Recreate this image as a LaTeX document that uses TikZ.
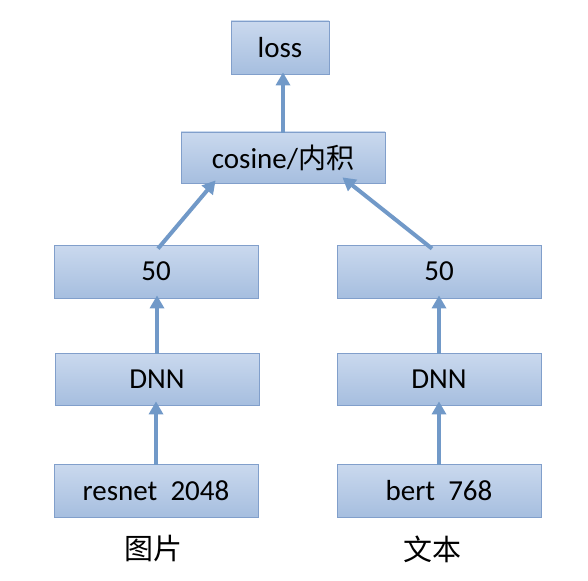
\documentclass[tikz,border=0pt]{standalone}
\usepackage{fontspec}
\setmainfont{Carlito}
\newfontfamily\cjk{Noto Sans CJK SC}
\usetikzlibrary{arrows.meta}
\definecolor{boxtop}{HTML}{CAD9EE}
\definecolor{boxbot}{HTML}{A6BEDF}
\definecolor{boxline}{HTML}{819FCB}
\definecolor{arr}{HTML}{7199C8}
\tikzset{
  blk/.style={draw=boxline, line width=0.8pt, top color=boxtop, bottom color=boxbot,
    minimum width=204pt, minimum height=52pt, inner sep=0pt, font=\fontsize{29}{34}\selectfont},
  flow/.style={draw=arr, line width=4pt, -{Triangle[length=13pt,width=14pt]}},
  lbl/.style={font=\cjk\fontsize{29}{34}\selectfont}
}
\begin{document}
\begin{tikzpicture}[x=1pt,y=-1pt]
\useasboundingbox (0,0) rectangle (588,580);
\node[blk, minimum width=98pt, minimum height=53pt] (loss) at (280,47.5) {loss};
\node[blk, minimum height=51pt] (cos) at (283,157.5) {cosine/{\cjk\fontsize{28}{32}\selectfont 内积}};
\node[blk, minimum height=53pt] (l50) at (156,271.5) {50};
\node[blk, minimum height=53pt] (r50) at (439,271.5) {50};
\node[blk] (ldnn) at (157,379) {DNN};
\node[blk] (rdnn) at (439,379) {DNN};
\node[blk, minimum height=53pt] (lin) at (156,490.5) {resnet\ \ 2048};
\node[blk, minimum height=53pt] (rin) at (439,490.5) {bert\ \ 768};
\node[lbl] (limg) at (153,549) {图片};
\node[lbl] (ltxt) at (432,549) {文本};
\draw[flow] ([yshift=-1pt]cos.north) -- ([yshift=2pt]loss.south -| cos.north);
\draw[flow] ([xshift=2pt,yshift=-4pt]l50.north) -- ([xshift=35pt,yshift=3pt]cos.south west);
\draw[flow] ([xshift=-7pt,yshift=-4pt]r50.north) -- ([xshift=-43pt,yshift=6pt]cos.south east);
\draw[flow] ([yshift=-1pt]ldnn.north) -- ([yshift=3pt]l50.south -| ldnn.north);
\draw[flow] ([yshift=-1pt]rdnn.north) -- ([yshift=3pt]r50.south);
\draw[flow] ([yshift=-1pt]lin.north) -- ([yshift=4pt]ldnn.south -| lin.north);
\draw[flow] ([yshift=-1pt]rin.north) -- ([yshift=4pt]rdnn.south);
\end{tikzpicture}
\end{document}
